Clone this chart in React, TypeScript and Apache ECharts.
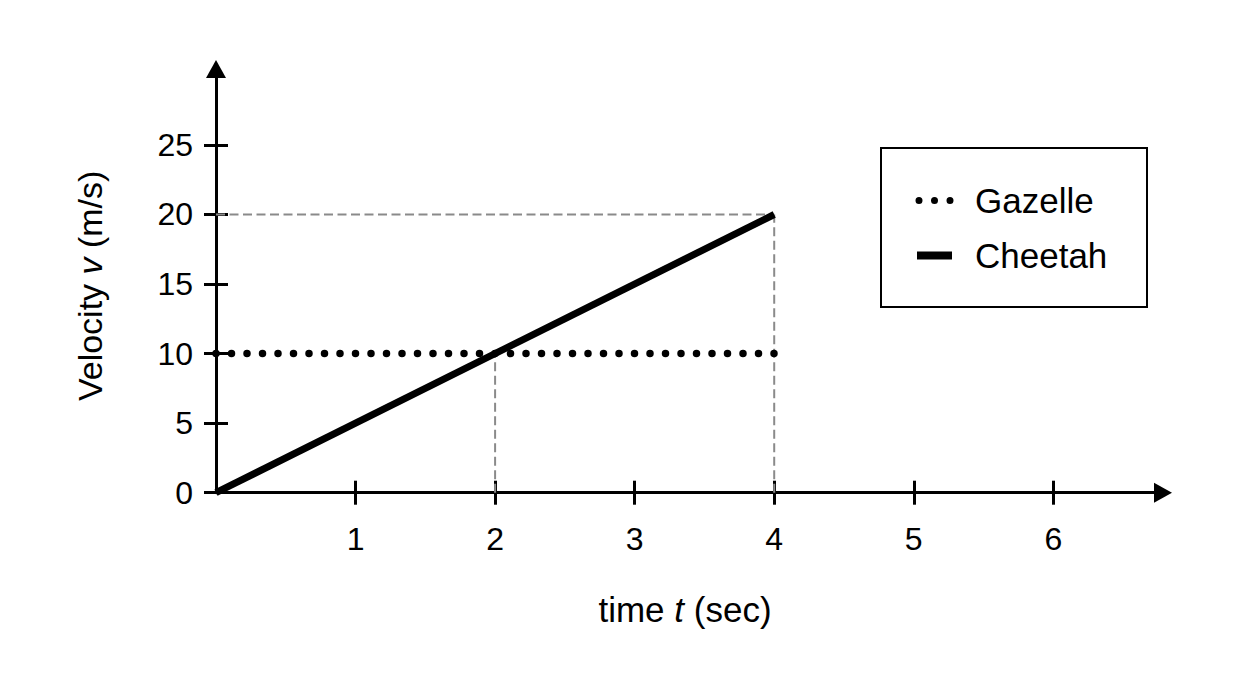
import React, { useEffect, useRef } from "react";
import * as echarts from "echarts";

const xTicks = [1, 2, 3, 4, 5, 6];
const yTicks = [0, 5, 10, 15, 20, 25];
const gazelle: [number, number][] = [[0, 10], [4, 10]];
const cheetah: [number, number][] = [[0, 0], [4, 20]];
const guide20: [number, number][] = [[0, 20], [4, 20]];
const guideT4: [number, number][] = [[4, 0], [4, 20]];
const guideT2: [number, number][] = [[2, 0], [2, 10]];
const seriesNames = ["Gazelle", "Cheetah"];

const FONT = "'Liberation Sans', Arial, Helvetica, sans-serif";
const TICK_FS = 32;
const TITLE_FS = 35;
const YTITLE_FS = 34;

export default function App() {
  const ref = useRef<HTMLDivElement>(null);
  useEffect(() => {
    if (!ref.current) return;
    const chart = echarts.init(ref.current, null, { renderer: "svg" });
    const gray = { color: "#8a8a8a", width: 2, type: [9, 4.5] as any };
    const guide = (data: [number, number][]) => ({
      type: "line",
      data,
      symbol: "none",
      silent: true,
      z: 1,
      lineStyle: gray,
    });
    const rich = (fs: number) => ({
      a: { fontSize: fs, fontFamily: FONT, color: "#000" },
      b: { fontSize: fs, fontFamily: FONT, color: "#000", fontStyle: "italic" },
    });
    chart.setOption({
      animation: false,
      backgroundColor: "#ffffff",
      textStyle: { fontFamily: FONT, color: "#000" },
      grid: { left: 216, right: 83, top: 69, bottom: 195.3, containLabel: false },
      xAxis: [
        {
          type: "value",
          min: 0,
          max: 6.786,
          position: "bottom",
          splitLine: { show: false },
          axisLine: {
            show: true,
            lineStyle: { color: "#000", width: 3 },
            symbol: ["none", "triangle"],
            symbolSize: [20, 18],
          },
          axisTick: { show: true, inside: false, length: 12, lineStyle: { color: "#000", width: 3 }, customValues: xTicks },
          axisLabel: { show: true, customValues: xTicks, fontSize: TICK_FS, color: "#000", margin: 30, fontFamily: FONT },
          name: "{a|time }{b|t}{a| (sec)}",
          nameLocation: "middle",
          nameGap: 99,
          nameTextStyle: { rich: rich(TITLE_FS), padding: [0, 9, 0, 0] },
        },
        {
          type: "value",
          min: 0,
          max: 6.786,
          position: "bottom",
          splitLine: { show: false },
          axisLine: { show: false },
          axisTick: { show: true, inside: true, length: 12, lineStyle: { color: "#000", width: 3 }, customValues: xTicks },
          axisLabel: { show: false },
        },
      ],
      yAxis: [
        {
          type: "value",
          min: 0,
          max: 30.46,
          position: "left",
          splitLine: { show: false },
          axisLine: {
            show: true,
            lineStyle: { color: "#000", width: 3 },
            symbol: ["none", "triangle"],
            symbolSize: [20, 18],
          },
          axisTick: { show: true, inside: false, length: 12, lineStyle: { color: "#000", width: 3 }, customValues: yTicks },
          axisLabel: { show: true, customValues: yTicks, fontSize: TICK_FS, color: "#000", margin: 23, fontFamily: FONT },
          name: "{a|Velocity }{b|v}{a| (m/s)}",
          nameLocation: "middle",
          nameRotate: 90,
          nameGap: 109,
          nameTextStyle: { rich: rich(YTITLE_FS), padding: [0, 10, 0, 0] },
        },
        {
          type: "value",
          min: 0,
          max: 30.46,
          position: "left",
          splitLine: { show: false },
          axisLine: { show: false },
          axisTick: { show: true, inside: true, length: 12, lineStyle: { color: "#000", width: 3 }, customValues: yTicks },
          axisLabel: { show: false },
        },
      ],
      legend: {
        data: [
          { name: seriesNames[0], lineStyle: { width: 7, dashOffset: -2 } },
          { name: seriesNames[1], lineStyle: { width: 8 } },
        ],
        orient: "vertical",
        left: 908,
        top: 178,
        itemWidth: 35,
        itemHeight: 14,
        itemGap: 20,
        textStyle: { fontSize: TITLE_FS, fontFamily: FONT, color: "#000", padding: [0, 0, 0, 18] },
        itemStyle: { opacity: 0 },
        lineStyle: { width: 7 },
        selectedMode: false,
      },
      graphic: [
        {
          type: "rect",
          shape: { x: 881, y: 148, width: 266, height: 159 },
          style: { fill: "none", stroke: "#000", lineWidth: 2 },
          z: 100,
        },
      ],
      series: [
        guide(guide20),
        guide(guideT4),
        guide(guideT2),
        {
          name: seriesNames[0],
          type: "line",
          data: gazelle,
          symbol: "none",
          z: 3,
          lineStyle: { color: "#000", width: 7.5, type: [0.001, 15.499], cap: "round" },
          itemStyle: { color: "#000" },
        },
        {
          name: seriesNames[1],
          type: "line",
          data: cheetah,
          symbol: "none",
          z: 4,
          lineStyle: { color: "#000", width: 7, type: "solid", cap: "butt" },
          itemStyle: { color: "#000" },
        },
      ],
    });
    return () => chart.dispose();
  }, []);
  return (
    <div
      ref={ref}
      style={{ position: "absolute", left: 0, top: 0, width: 1246, height: 688, background: "#fff" }}
    />
  );
}
